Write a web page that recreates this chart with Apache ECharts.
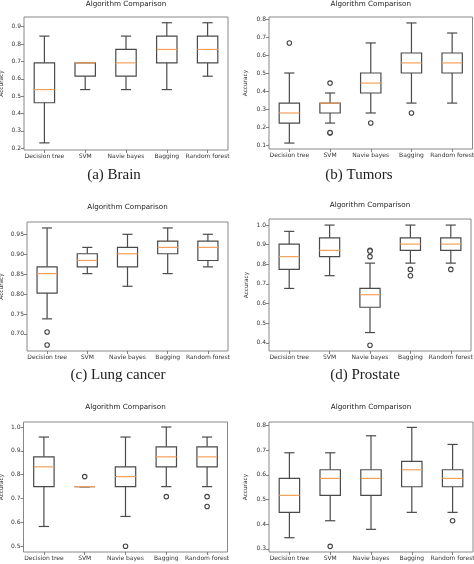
<!DOCTYPE html>
<html>
<head>
<meta charset="utf-8">
<script src="https://cdn.jsdelivr.net/npm/echarts@6/dist/echarts.min.js"></script>
<style>
html,body{margin:0;padding:0;background:#fff;}
#c{width:474px;height:564px;}
</style>
</head>
<body>
<div id="c"></div>
<script>
// ---- data ----
const categories = ['Decision tree', 'SVM', 'Navie bayes', 'Bagging', 'Random forest'];
// each box: [min whisker, Q1, median, Q3, max whisker]
const brainBoxes = [
  [0.231, 0.462, 0.538, 0.692, 0.846],
  [0.538, 0.615, 0.692, 0.692, 0.692],
  [0.538, 0.615, 0.692, 0.769, 0.846],
  [0.538, 0.692, 0.769, 0.846, 0.923],
  [0.615, 0.692, 0.769, 0.846, 0.923]
];
const brainOutliers = [];
const brainTicks = [0.2, 0.3, 0.4, 0.5, 0.6, 0.7, 0.8, 0.9];

const tumorsBoxes = [
  [0.111, 0.222, 0.278, 0.333, 0.500],
  [0.222, 0.278, 0.333, 0.333, 0.389],
  [0.278, 0.389, 0.444, 0.500, 0.667],
  [0.333, 0.500, 0.556, 0.611, 0.778],
  [0.333, 0.500, 0.556, 0.611, 0.722]
];
const tumorsOutliers = [[0, 0.667], [1, 0.444], [1, 0.167], [1, 0.169], [2, 0.222], [3, 0.278]];
const tumorsTicks = [0.1, 0.2, 0.3, 0.4, 0.5, 0.6, 0.7, 0.8];

const lungBoxes = [
  [0.738, 0.803, 0.852, 0.869, 0.967],
  [0.852, 0.869, 0.885, 0.902, 0.918],
  [0.820, 0.869, 0.902, 0.918, 0.951],
  [0.852, 0.902, 0.918, 0.934, 0.967],
  [0.869, 0.885, 0.918, 0.934, 0.951]
];
const lungOutliers = [[0, 0.705], [0, 0.672]];
const lungTicks = [0.70, 0.75, 0.80, 0.85, 0.90, 0.95];

const prostateBoxes = [
  [0.677, 0.774, 0.839, 0.903, 0.968],
  [0.742, 0.839, 0.871, 0.935, 1.000],
  [0.452, 0.581, 0.645, 0.677, 0.806],
  [0.806, 0.871, 0.903, 0.935, 1.000],
  [0.806, 0.871, 0.903, 0.935, 1.000]
];
const prostateOutliers = [[2, 0.871], [2, 0.868], [2, 0.839], [2, 0.387], [3, 0.774], [3, 0.742], [4, 0.774]];
const prostateTicks = [0.4, 0.5, 0.6, 0.7, 0.8, 0.9, 1.0];

const set5Boxes = [
  [0.583, 0.750, 0.833, 0.875, 0.958],
  [0.750, 0.750, 0.750, 0.750, 0.750],
  [0.625, 0.750, 0.792, 0.833, 0.958],
  [0.750, 0.833, 0.875, 0.917, 1.000],
  [0.750, 0.833, 0.875, 0.917, 0.958]
];
const set5Outliers = [[1, 0.792], [2, 0.500], [3, 0.708], [4, 0.708], [4, 0.667]];
const set5Ticks = [0.5, 0.6, 0.7, 0.8, 0.9, 1.0];

const set6Boxes = [
  [0.345, 0.448, 0.517, 0.586, 0.690],
  [0.414, 0.517, 0.586, 0.621, 0.690],
  [0.379, 0.517, 0.586, 0.621, 0.759],
  [0.448, 0.552, 0.621, 0.655, 0.793],
  [0.448, 0.552, 0.586, 0.621, 0.724]
];
const set6Outliers = [[1, 0.310], [4, 0.414]];
const set6Ticks = [0.3, 0.4, 0.5, 0.6, 0.7, 0.8];

const titleText = 'Algorithm Comparison';
const yName = 'Accuracy';
const captions = ['(a) Brain', '(b) Tumors', '(c) Lung cancer', '(d) Prostate'];

// ---- layout / style ----
const panels = [
  {boxes: brainBoxes, outliers: brainOutliers, ticks: brainTicks, dec: 1, min: 0.190, max: 0.956,
   left: 24, top: 17, width: 204, height: 133, nameGap: 20, titleY: 4.5},
  {boxes: tumorsBoxes, outliers: tumorsOutliers, ticks: tumorsTicks, dec: 1, min: 0.078, max: 0.811,
   left: 269, top: 17, width: 203.5, height: 132, nameGap: 21, titleY: 4.5},
  {boxes: lungBoxes, outliers: lungOutliers, ticks: lungTicks, dec: 2, min: 0.657, max: 0.982,
   left: 27, top: 222, width: 201, height: 129, nameGap: 23, titleY: 207.5},
  {boxes: prostateBoxes, outliers: prostateOutliers, ticks: prostateTicks, dec: 1, min: 0.358, max: 1.031,
   left: 269, top: 219, width: 202, height: 132, nameGap: 19.5, titleY: 205},
  {boxes: set5Boxes, outliers: set5Outliers, ticks: set5Ticks, dec: 1, min: 0.476, max: 1.021,
   left: 23.5, top: 422, width: 204, height: 130, nameGap: 19.5, titleY: 407.5},
  {boxes: set6Boxes, outliers: set6Outliers, ticks: set6Ticks, dec: 1, min: 0.287, max: 0.815,
   left: 269, top: 422, width: 204, height: 130, nameGap: 21, titleY: 407.5}
];
const captionPos = [[114, 175], [359, 175], [118, 375], [365, 375]];

const FONT = 'DejaVu Sans';
const TXT = '#333';
const BOX = '#4a4a4a';
const MED = '#f5a05a';
const FRAME = '#888';

const grids = [], xAxes = [], yAxes = [], series = [], graphics = [];

panels.forEach((p, i) => {
  grids.push({left: p.left, top: p.top, width: p.width, height: p.height, show: true,
    borderColor: FRAME, borderWidth: 1, backgroundColor: 'transparent',
    containLabel: false, outerBoundsMode: 'none'});
  xAxes.push({gridIndex: i, type: 'category', data: categories,
    axisLine: {show: false},
    axisTick: {show: true, alignWithLabel: true, length: 3, lineStyle: {color: '#666', width: 0.8}},
    axisLabel: {interval: 0, fontSize: 6, fontFamily: FONT, color: TXT, margin: 3},
    splitLine: {show: false}});
  yAxes.push({gridIndex: i, type: 'value', min: p.min, max: p.max,
    axisLine: {show: false}, splitLine: {show: false},
    axisTick: {show: true, length: 3, customValues: p.ticks, lineStyle: {color: '#666', width: 0.8}},
    axisLabel: {customValues: p.ticks, fontSize: 6, fontFamily: FONT, color: TXT, margin: 3,
      formatter: v => Number(v).toFixed(p.dec)},
    name: yName, nameLocation: 'middle', nameGap: p.nameGap,
    nameTextStyle: {fontSize: 5.8, fontFamily: FONT, color: TXT}});
  series.push({type: 'custom', xAxisIndex: i, yAxisIndex: i,
    data: p.boxes.map((b, k) => [k].concat(b)),
    encode: {x: 0, y: [1, 2, 3, 4, 5]},
    renderItem: function (params, api) {
      const x = api.value(0);
      const bw = api.size([1, 0])[0];
      const half = bw * 0.25, cap = bw * 0.125;
      const pMin = api.coord([x, api.value(1)]);
      const pQ1 = api.coord([x, api.value(2)]);
      const pMed = api.coord([x, api.value(3)]);
      const pQ3 = api.coord([x, api.value(4)]);
      const pMax = api.coord([x, api.value(5)]);
      const cx = pMed[0];
      const ls = {stroke: BOX, lineWidth: 1.2, fill: null};
      return {type: 'group', children: [
        {type: 'line', shape: {x1: cx, y1: pMin[1], x2: cx, y2: pQ1[1]}, style: ls},
        {type: 'line', shape: {x1: cx, y1: pQ3[1], x2: cx, y2: pMax[1]}, style: ls},
        {type: 'line', shape: {x1: cx - cap, y1: pMin[1], x2: cx + cap, y2: pMin[1]}, style: ls},
        {type: 'line', shape: {x1: cx - cap, y1: pMax[1], x2: cx + cap, y2: pMax[1]}, style: ls},
        {type: 'rect', shape: {x: cx - half, y: pQ3[1], width: 2 * half, height: pQ1[1] - pQ3[1]},
          style: {stroke: BOX, lineWidth: 1.2, fill: '#fff'}},
        {type: 'line', shape: {x1: cx - half, y1: pMed[1], x2: cx + half, y2: pMed[1]},
          style: {stroke: MED, lineWidth: 1.2}}
      ]};
    }
  });
  series.push({type: 'scatter', xAxisIndex: i, yAxisIndex: i, data: p.outliers,
    symbol: 'circle', symbolSize: 4.5,
    itemStyle: {color: '#fff', borderColor: '#444', borderWidth: 1.1, opacity: 1}, z: 5});
  graphics.push({type: 'text', x: p.left + p.width / 2, y: p.titleY,
    style: {text: titleText, align: 'center', verticalAlign: 'middle',
      font: '7.2px "DejaVu Sans"', fill: '#222'}});
});

captions.forEach((t, i) => {
  graphics.push({type: 'text', x: captionPos[i][0], y: captionPos[i][1],
    style: {text: t, align: 'center', verticalAlign: 'middle',
      font: '15px "Liberation Serif"', fill: '#222'}});
});

const chart = echarts.init(document.getElementById('c'), null, {renderer: 'canvas'});
chart.setOption({
  animation: false,
  backgroundColor: '#fff',
  grid: grids, xAxis: xAxes, yAxis: yAxes, series: series, graphic: graphics
});
</script>
</body>
</html>
